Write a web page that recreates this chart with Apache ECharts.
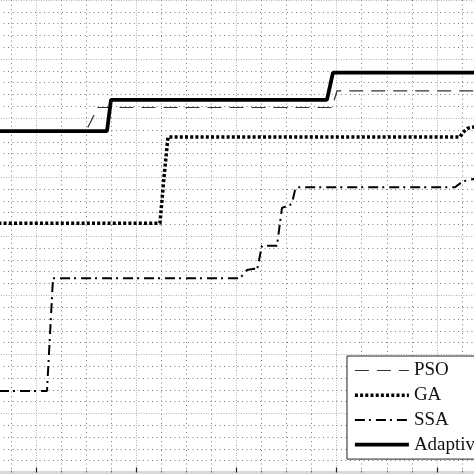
<!DOCTYPE html>
<html>
<head>
<meta charset="utf-8">
<title>convergence</title>
<script src="https://cdn.jsdelivr.net/npm/echarts@6/dist/echarts.min.js"></script>
<style>
  html, body { margin: 0; padding: 0; background: #fff; overflow: hidden; }
  #wrap { position: relative; width: 474px; height: 474px; overflow: hidden; }
  /* plot runs past both edges of the window, as in the cropped figure */
  #chart { position: absolute; left: -64px; top: 0; width: 601px; height: 474px; }
</style>
</head>
<body>
<div id="wrap"><div id="chart"></div></div>
<script>
// series names (legend order)
var seriesNames = ['PSO', 'GA', 'SSA', 'Adaptive'];

// values, [iteration, fitness] in axis units
var psoX = [0, 14.97, 16.17, 39.53, 40.03, 60];
var psoY = [5.78, 5.78, 6.18, 6.18, 6.46, 6.46];

var gaX = [0, 22.36, 22.76, 23.16, 52.31, 52.61, 53.11, 53.71, 60];
var gaY = [4.22, 4.22, 5.0, 5.68, 5.68, 5.76, 5.83, 5.85, 5.86];

var ssaX = [0, 11.08, 11.68, 30.35, 31.05, 31.75, 32.05, 32.54, 34.04, 34.54, 35.34, 35.54, 35.84, 36.14, 51.81, 52.61, 53.71, 60];
var ssaY = [1.38, 1.38, 3.29, 3.29, 3.43, 3.45, 3.43, 3.84, 3.84, 4.48, 4.53, 4.56, 4.78, 4.83, 4.83, 4.93, 4.97, 4.97];

var adaX = [0, 17.07, 17.47, 39.03, 39.63, 60];
var adaY = [5.78, 5.78, 6.31, 6.31, 6.77, 6.77];

function pairs(xs, ys) {
    var out = [];
    for (var i = 0; i < xs.length; i++) {
        out.push([xs[i], ys[i]]);
    }
    return out;
}

var myChart = echarts.init(document.getElementById('chart'));

var majorGrid = { color: '#a0a0a0', width: 0.8, type: [1, 1.5] };
var minorGrid = { color: '#7a7a7a', width: 1, type: [1, 3.5] };

var option = {
    backgroundColor: '#fff',
    animation: false,
    grid: {
        left: 0,
        right: 0,
        top: 0,
        bottom: 1.5
    },
    xAxis: {
        type: 'value',
        min: 0,
        max: 60,
        interval: 10,
        axisLabel: { show: false },
        axisLine: { show: true, onZero: false, lineStyle: { color: '#d9d9d9', width: 3 } },
        axisTick: { show: true, inside: true, length: 5, lineStyle: { color: '#222', width: 1.2 } },
        minorTick: { show: true, splitNumber: 4, length: 2, lineStyle: { color: '#666', width: 1 } },
        splitLine: { show: true, lineStyle: majorGrid },
        minorSplitLine: { show: true, lineStyle: minorGrid }
    },
    yAxis: {
        type: 'value',
        min: 0,
        max: 8,
        interval: 1,
        axisLabel: { show: false },
        axisLine: { show: false },
        axisTick: { show: false },
        minorTick: { show: false, splitNumber: 5 },
        splitLine: { show: true, lineStyle: majorGrid },
        minorSplitLine: { show: true, lineStyle: minorGrid }
    },
    legend: {
        orient: 'vertical',
        left: 411,
        top: 356,
        data: seriesNames,
        backgroundColor: '#fff',
        borderColor: '#222',
        borderWidth: 1,
        borderRadius: 0,
        padding: [5, 6, 5, 6],
        itemWidth: 54,
        itemHeight: 14,
        itemGap: 5.7,
        // line sample only, no marker in the middle
        itemStyle: { color: 'rgba(0,0,0,0)', borderWidth: 0, opacity: 0 },
        lineStyle: { width: 'inherit' },
        textStyle: {
            fontFamily: 'Liberation Serif',
            fontSize: 19,
            lineHeight: 19,
            color: '#111'
        }
    },
    series: [{
        name: 'PSO',
        type: 'line',
        symbol: 'none',
        data: pairs(psoX, psoY),
        lineStyle: { color: '#333', width: 1.2, type: [14, 8] },
        itemStyle: { color: '#333' },
        z: 3
    }, {
        name: 'GA',
        type: 'line',
        symbol: 'none',
        data: pairs(gaX, gaY),
        lineStyle: { color: '#000', width: 3.5, type: [3, 2.2], cap: 'butt' },
        itemStyle: { color: '#000' },
        z: 3
    }, {
        name: 'SSA',
        type: 'line',
        symbol: 'none',
        data: pairs(ssaX, ssaY),
        lineStyle: { color: '#000', width: 2, type: [10, 4, 2, 5] },
        itemStyle: { color: '#000' },
        z: 3
    }, {
        name: 'Adaptive',
        type: 'line',
        symbol: 'none',
        data: pairs(adaX, adaY),
        lineStyle: { color: '#000', width: 3.8 },
        itemStyle: { color: '#000' },
        z: 4
    }]
};

myChart.setOption(option);
window.addEventListener('resize', function() {
    myChart.resize();
});
</script>
</body>
</html>
